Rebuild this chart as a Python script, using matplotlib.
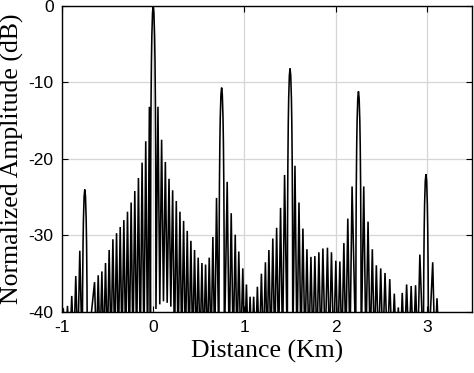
import matplotlib
matplotlib.use("Agg")
import matplotlib.pyplot as plt
import numpy as np

# ---- data (distance in km, level in dB) ----
peak_x = [-0.75, 0.0, 0.75, 1.50, 2.25, 2.99]
peak_db = [-24.0, 0.0, -10.7, -8.2, -11.2, -22.0]

# side lobes, segment by segment (left to right)
segA_x = [-0.986, -0.940, -0.893, -0.849, -0.805]
segA_db = [-39.5, -39.2, -37.9, -35.3, -32.0]

segB_x = [-0.643, -0.603, -0.563, -0.523, -0.483, -0.442, -0.402, -0.362,
          -0.322, -0.282, -0.242, -0.202, -0.162, -0.122, -0.082, -0.042]
segB_db = [-36.1, -35.2, -34.7, -33.6, -31.9, -30.5, -29.7, -28.9,
           -28.0, -26.9, -25.7, -24.2, -22.5, -20.5, -17.7, -13.2]

segC_x = [0.052, 0.092, 0.133, 0.173, 0.213, 0.253, 0.293, 0.333, 0.373,
          0.413, 0.453, 0.493, 0.534, 0.574, 0.614, 0.654, 0.694]
segC_db = [-13.2, -17.5, -20.4, -22.6, -24.1, -25.5, -26.9, -28.1, -29.4,
           -30.7, -31.9, -32.9, -33.6, -33.8, -32.9, -30.2, -25.1]
# shallow nulls just right of the main peak (others go below the floor)
segC_null_db = [-39.6, -39.0, -38.6, -38.8, -39.3]

segD_x = [0.811, 0.855, 0.899, 0.938, 0.982, 1.022, 1.062, 1.101,
          1.142, 1.186, 1.230, 1.268, 1.311, 1.353, 1.396, 1.440]
segD_db = [-23.0, -27.1, -29.9, -32.1, -34.3, -36.4, -38.0, -38.0,
           -36.7, -35.0, -33.5, -31.9, -30.4, -29.0, -26.4, -22.1]

segE_x = [1.554, 1.598, 1.641, 1.685, 1.729, 1.772, 1.816, 1.860,
          1.910, 1.954, 2.002, 2.046, 2.090, 2.133, 2.180]
segE_db = [-20.9, -25.7, -29.1, -31.8, -32.8, -32.7, -32.2, -31.7,
           -31.6, -32.2, -33.3, -33.4, -31.0, -27.8, -23.6]

segF_x = [2.308, 2.355, 2.402, 2.446, 2.494, 2.541, 2.593, 2.643,
          2.687, 2.730, 2.778, 2.828, 2.876, 2.923]
segF_db = [-23.6, -28.2, -31.8, -33.9, -34.3, -34.9, -35.7, -37.6,
           -39.4, -37.5, -36.4, -36.6, -36.5, -32.5]

segG_x = [3.064, 3.111]
segG_db = [-33.5, -38.2]

x_start, x_end = -1.0, 3.135

# ---- drawing style helpers (shape of a main lobe, null depth) ----
NULL_DB = -45.0
MAIN_HW = 0.030                       # half width of a main lobe (km)
MAIN_U = [0.9, 0.8, 0.65, 0.5, 0.25]  # fraction of half width
MAIN_DROP = [19.6, 12.7, 7.2, 3.9, 0.9]

segments = [(segA_x, segA_db, []), (segB_x, segB_db, []),
            (segC_x, segC_db, segC_null_db),
            (segD_x, segD_db, []), (segE_x, segE_db, []),
            (segF_x, segF_db, []), (segG_x, segG_db, [])]


def side_points(xs, ys, nulls, left_null, right_null):
    def nd(i):
        return nulls[i] if i < len(nulls) else NULL_DB
    px, py = [left_null], [nd(0)]
    for i, (x, y) in enumerate(zip(xs, ys)):
        px.append(x)
        py.append(y)
        if i < len(xs) - 1:
            px.append(0.5 * (x + xs[i + 1]))
            py.append(nd(i + 1))
    px.append(right_null)
    py.append(NULL_DB)
    return px, py


def main_points(c, L):
    px, py = [], []
    for u, d in zip(MAIN_U, MAIN_DROP):
        px.append(c - u * MAIN_HW)
        py.append(L - d)
    px.append(c)
    py.append(L)
    for u, d in zip(MAIN_U[::-1], MAIN_DROP[::-1]):
        px.append(c + u * MAIN_HW)
        py.append(L - d)
    return px, py


X, Y = [], []
for k, (sx, sy, sn) in enumerate(segments):
    left = x_start if k == 0 else peak_x[k - 1] + MAIN_HW
    right = x_end if k == len(segments) - 1 else peak_x[k] - MAIN_HW
    a, b = side_points(sx, sy, sn, left, right)
    X += a
    Y += b
    if k < len(peak_x):
        a, b = main_points(peak_x[k], peak_db[k])
        X += a
        Y += b

plt.rcParams["axes.unicode_minus"] = False
fig = plt.figure(figsize=(4.74, 3.73), dpi=100)
ax = fig.add_axes([0.1308, 0.1635, 0.8660, 0.8212])
ax.plot(X, Y, color="black", lw=1.15, solid_joinstyle="miter")

ax.set_xlim(-1, 3.5)
ax.set_ylim(-40, 0)
ax.set_xticks([-1, 0, 1, 2, 3])
ax.set_yticks([-40, -30, -20, -10, 0])
ax.grid(True, color="#d6d6d6", lw=0.9)
ax.set_axisbelow(True)
ax.tick_params(direction="in", length=4, width=0.8, top=True, right=True,
               labelsize=12.5, pad=6)
for lab in ax.get_xticklabels() + ax.get_yticklabels():
    lab.set_family("Liberation Sans")
for s in ax.spines.values():
    s.set_linewidth(1.0)

ax.set_xlabel("Distance (Km)", family="Liberation Serif", fontsize=18.5,
              labelpad=3)
ax.set_ylabel("Normalized Amplitude (dB)", family="Liberation Serif",
              fontsize=18.5, labelpad=3)

fig.savefig("out.png", dpi=100)
